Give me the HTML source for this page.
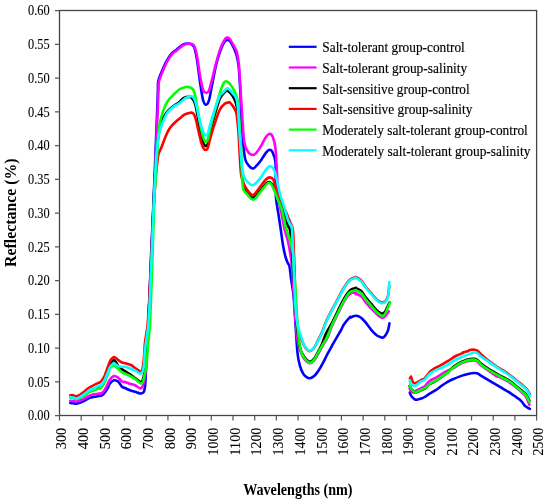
<!DOCTYPE html>
<html><head><meta charset="utf-8"><title>Reflectance spectra</title>
<style>html,body{margin:0;padding:0;background:#fff;width:550px;height:502px;overflow:hidden}svg{display:block}</style>
</head><body>
<svg width="550" height="502" viewBox="0 0 550 502">
<rect width="550" height="502" fill="#fff"/>
<g fill="none" stroke-width="2.6" stroke-linejoin="round" stroke-linecap="round">
<path stroke="#0000ff" d="M70.3 402.9 C70.75 402.97 71.97 403.18 73 403.3 C74.03 403.42 75.33 403.68 76.5 403.6 C77.67 403.52 78.78 403.22 80 402.8 C81.22 402.38 82.2 401.93 83.8 401.1 C85.4 400.27 87.78 398.53 89.6 397.8 C91.42 397.07 93.3 396.97 94.7 396.7 C96.1 396.43 96.78 396.42 98 396.2 C99.22 395.98 101 395.85 102 395.4 C103 394.95 103.07 394.68 104 393.5 C104.93 392.32 106.6 389.97 107.6 388.3 C108.6 386.63 108.93 384.83 110 383.5 C111.07 382.17 112.67 380.63 114 380.3 C115.33 379.97 116.67 380.43 118 381.5 C119.33 382.57 120.83 385.62 122 386.7 C123.17 387.78 123.67 387.4 125 388 C126.33 388.6 128.33 389.67 130 390.3 C131.67 390.93 133.33 391.27 135 391.8 C136.67 392.33 138.83 393.28 140 393.5 C141.17 393.72 141.33 393.43 142 393.1 C142.67 392.77 143.47 392.85 144 391.5 C144.53 390.15 144.88 388.25 145.2 385 C145.52 381.75 145.6 377.83 145.9 372 C146.2 366.17 146.57 357.83 147 350 C147.43 342.17 147.87 339.67 148.5 325 C149.13 310.33 149.95 282.83 150.8 262 C151.65 241.17 152.8 218.67 153.6 200 C154.4 181.33 155 165 155.6 150 C156.2 135 156.82 120 157.2 110 C157.58 100 157.72 94.83 157.9 90 C158.08 85.17 157.63 84.13 158.3 81 C158.97 77.87 160.62 74.37 161.9 71.2 C163.18 68.03 164.43 64.9 166 62 C167.57 59.1 169.53 55.85 171.3 53.8 C173.07 51.75 174.68 51.23 176.6 49.7 C178.52 48.17 180.87 45.63 182.8 44.6 C184.73 43.57 186.62 43.43 188.2 43.5 C189.78 43.57 191.25 44.25 192.3 45 C193.35 45.75 193.72 45.52 194.5 48 C195.28 50.48 196.08 54.27 197 59.9 C197.92 65.53 199 75.17 200 81.8 C201 88.43 202.02 95.88 203 99.7 C203.98 103.52 204.92 104.53 205.9 104.7 C206.88 104.87 207.9 103.85 208.9 100.7 C209.9 97.55 210.73 91.6 211.9 85.8 C213.07 80 214.57 71.55 215.9 65.9 C217.23 60.25 218.57 55.73 219.9 51.9 C221.23 48.07 222.73 44.88 223.9 42.9 C225.07 40.92 225.92 40.32 226.9 40 C227.88 39.68 228.65 39.68 229.8 41 C230.95 42.32 232.63 45.42 233.8 47.9 C234.97 50.38 235.97 52.55 236.8 55.9 C237.63 59.25 238.18 61.48 238.8 68 C239.42 74.52 240.05 86.2 240.5 95 C240.95 103.8 241.03 112.52 241.5 120.8 C241.97 129.08 242.67 138.25 243.3 144.7 C243.93 151.15 244.37 156 245.3 159.5 C246.23 163 247.57 164.22 248.9 165.7 C250.23 167.18 251.47 169.05 253.3 168.4 C255.13 167.75 257.8 164.4 259.9 161.8 C262 159.2 264.25 154.8 265.9 152.8 C267.55 150.8 268.65 149.8 269.8 149.8 C270.95 149.8 271.87 150.8 272.8 152.8 C273.73 154.8 274.92 157.27 275.4 161.8 C275.88 166.33 275.6 173.97 275.7 180 C275.8 186.03 275.55 192.35 276 198 C276.45 203.65 277.6 208.6 278.4 213.9 C279.2 219.2 280.02 224.5 280.8 229.8 C281.58 235.1 282.32 241.18 283.1 245.7 C283.88 250.22 284.7 253.98 285.5 256.9 C286.3 259.82 287.23 261.62 287.9 263.2 C288.57 264.78 288.95 263.67 289.5 266.4 C290.05 269.13 290.53 274.83 291.2 279.6 C291.87 284.37 292.87 288.95 293.5 295 C294.13 301.05 294.35 306.43 295 315.9 C295.65 325.37 296.57 343.43 297.4 351.8 C298.23 360.17 299.02 362.43 300 366.1 C300.98 369.77 302.2 371.97 303.3 373.8 C304.4 375.63 305.5 376.37 306.6 377.1 C307.7 377.83 308.63 378.38 309.9 378.2 C311.17 378.02 312.75 377.28 314.2 376 C315.65 374.72 317.13 372.68 318.6 370.5 C320.07 368.32 321.53 365.63 323 362.9 C324.47 360.17 325.75 357.22 327.4 354.1 C329.05 350.98 331.27 347.12 332.9 344.2 C334.53 341.28 335.83 338.97 337.2 336.6 C338.57 334.23 339.98 332.02 341.1 330 C342.22 327.98 342.47 326.62 343.9 324.5 C345.33 322.38 348.6 318.45 349.7 317.3 C350.8 316.15 349.9 317.78 350.5 317.6 C351.1 317.42 352.37 316.5 353.3 316.2 C354.23 315.9 355.15 315.75 356.1 315.8 C357.05 315.85 358.12 316.13 359 316.5 C359.88 316.87 360.27 316.97 361.4 318 C362.53 319.03 364.17 320.73 365.8 322.7 C367.43 324.67 369.4 327.72 371.2 329.8 C373 331.88 374.97 333.95 376.6 335.2 C378.23 336.45 379.93 336.9 381 337.3 C382.07 337.7 382.25 337.95 383 337.6 C383.75 337.25 384.63 336.5 385.5 335.2 C386.37 333.9 387.55 331.77 388.2 329.8 C388.85 327.83 389.2 324.47 389.4 323.4"/>
<path stroke="#0000ff" d="M409.8 392.5 C410 393 410.6 394.73 411 395.5 C411.4 396.27 411.52 396.43 412.2 397.1 C412.88 397.77 414.22 399.08 415.1 399.5 C415.98 399.92 416.7 399.7 417.5 399.6 C418.3 399.5 419.15 399.13 419.9 398.9 C420.65 398.67 421.2 398.52 422 398.2 C422.8 397.88 423.6 397.65 424.7 397 C425.8 396.35 426.77 395.43 428.6 394.3 C430.43 393.17 433.53 391.62 435.7 390.2 C437.87 388.78 439.62 387.18 441.6 385.8 C443.58 384.42 445.62 383.03 447.6 381.9 C449.58 380.77 451.53 379.88 453.5 379 C455.47 378.12 457.48 377.3 459.4 376.6 C461.32 375.9 463 375.37 465 374.8 C467 374.23 469.4 373.47 471.4 373.2 C473.4 372.93 475.42 372.8 477 373.2 C478.58 373.6 478.92 374.4 480.9 375.6 C482.88 376.8 485.72 378.52 488.9 380.4 C492.08 382.28 497.32 385.33 500 386.9 C502.68 388.47 503.33 388.8 505 389.8 C506.67 390.8 508.33 391.82 510 392.9 C511.67 393.98 513.35 395.15 515 396.3 C516.65 397.45 518.65 398.77 519.9 399.8 C521.15 400.83 521.67 401.5 522.5 402.5 C523.33 403.5 524 404.92 524.9 405.8 C525.8 406.68 527.07 407.3 527.9 407.8 C528.73 408.3 529.57 408.63 529.9 408.8"/>
<path stroke="#ff00ff" d="M70.3 400.7 C70.75 400.75 71.97 400.87 73 401 C74.03 401.13 75.33 401.58 76.5 401.5 C77.67 401.42 78.78 400.93 80 400.5 C81.22 400.07 82.2 399.72 83.8 398.9 C85.4 398.08 87.78 396.38 89.6 395.6 C91.42 394.82 93.3 394.5 94.7 394.2 C96.1 393.9 96.78 394 98 393.8 C99.22 393.6 101 393.47 102 393 C103 392.53 103.33 391.92 104 391 C104.67 390.08 105 389.42 106 387.5 C107 385.58 108.67 381.42 110 379.5 C111.33 377.58 112.67 376.33 114 376 C115.33 375.67 116.67 376.58 118 377.5 C119.33 378.42 120.83 380.75 122 381.5 C123.17 382.25 123.67 381.62 125 382 C126.33 382.38 128.33 383.25 130 383.8 C131.67 384.35 133.25 384.53 135 385.3 C136.75 386.07 139.2 388.32 140.5 388.4 C141.8 388.48 142.13 387.2 142.8 385.8 C143.47 384.4 144.02 382.63 144.5 380 C144.98 377.37 145.28 375.83 145.7 370 C146.12 364.17 146.57 352.5 147 345 C147.43 337.5 147.63 338.83 148.3 325 C148.97 311.17 150.07 282.83 151 262 C151.93 241.17 153.07 218.67 153.9 200 C154.73 181.33 155.37 165 156 150 C156.63 135 157.28 120 157.7 110 C158.12 100 158.3 94.67 158.5 90 C158.7 85.33 158.27 84.97 158.9 82 C159.53 79.03 161.05 75.38 162.3 72.2 C163.55 69.02 164.85 65.83 166.4 62.9 C167.95 59.97 169.87 56.68 171.6 54.6 C173.33 52.52 174.9 51.95 176.8 50.4 C178.7 48.85 181.1 46.42 183 45.3 C184.9 44.18 186.65 43.88 188.2 43.7 C189.75 43.52 191.25 43.73 192.3 44.2 C193.35 44.67 193.72 44.55 194.5 46.5 C195.28 48.45 196.08 51.02 197 55.9 C197.92 60.78 199 70.15 200 75.8 C201 81.45 202.02 86.97 203 89.8 C203.98 92.63 204.92 92.63 205.9 92.8 C206.88 92.97 207.9 92.97 208.9 90.8 C209.9 88.63 210.73 84.28 211.9 79.8 C213.07 75.32 214.57 68.88 215.9 63.9 C217.23 58.92 218.57 53.72 219.9 49.9 C221.23 46.08 222.73 43.05 223.9 41 C225.07 38.95 225.92 37.93 226.9 37.6 C227.88 37.27 228.65 37.62 229.8 39 C230.95 40.38 232.63 43.75 233.8 45.9 C234.97 48.05 235.97 48.9 236.8 51.9 C237.63 54.9 238.22 58.38 238.8 63.9 C239.38 69.42 239.75 76.5 240.3 85 C240.85 93.5 241.43 105.37 242.1 114.9 C242.77 124.43 243.33 136.05 244.3 142.2 C245.27 148.35 246.3 149.7 247.9 151.8 C249.5 153.9 251.9 155.47 253.9 154.8 C255.9 154.13 257.9 150.78 259.9 147.8 C261.9 144.82 264.25 139.22 265.9 136.9 C267.55 134.58 268.65 133.9 269.8 133.9 C270.95 133.9 271.87 134.58 272.8 136.9 C273.73 139.22 274.77 143.12 275.4 147.8 C276.03 152.48 276.25 158.8 276.6 165 C276.95 171.2 277.2 179.5 277.5 185 C277.8 190.5 277.72 193.18 278.4 198 C279.08 202.82 280.55 208.6 281.6 213.9 C282.65 219.2 283.65 225.28 284.7 229.8 C285.75 234.32 286.97 237.02 287.9 241 C288.83 244.98 289.63 249.53 290.3 253.7 C290.97 257.87 291.37 259.95 291.9 266 C292.43 272.05 292.9 281 293.5 290 C294.1 299 294.83 311.67 295.5 320 C296.17 328.33 296.8 335.17 297.5 340 C298.2 344.83 298.73 346.08 299.7 349 C300.67 351.92 302.15 355.42 303.3 357.5 C304.45 359.58 305.5 360.53 306.6 361.5 C307.7 362.47 308.63 363.47 309.9 363.3 C311.17 363.13 312.75 362.22 314.2 360.5 C315.65 358.78 317.13 355.53 318.6 353 C320.07 350.47 321.53 347.87 323 345.3 C324.47 342.73 325.9 340.82 327.4 337.6 C328.9 334.38 330.25 329.97 332 326 C333.75 322.03 335.92 317.83 337.9 313.8 C339.88 309.77 341.9 305.1 343.9 301.8 C345.9 298.5 347.95 295.55 349.9 294 C351.85 292.45 354.65 292.5 355.6 292.5 C356.55 292.5 355.52 293.75 355.6 294 C355.68 294.25 355.13 293.58 356.1 294 C357.07 294.42 359.78 295.08 361.4 296.5 C363.02 297.92 364.17 300.5 365.8 302.5 C367.43 304.5 369.4 306.58 371.2 308.5 C373 310.42 374.97 312.53 376.6 314 C378.23 315.47 379.93 316.67 381 317.3 C382.07 317.93 382.25 318.02 383 317.8 C383.75 317.58 384.53 317.07 385.5 316 C386.47 314.93 388.25 312.17 388.8 311.4"/>
<path stroke="#ff00ff" d="M409.6 388.2 C409.83 388.7 410.43 390.48 411 391.2 C411.57 391.92 412.33 392.4 413 392.5 C413.67 392.6 414.35 392.18 415 391.8 C415.65 391.42 416.07 390.73 416.9 390.2 C417.73 389.67 418.7 389.25 420 388.6 C421.3 387.95 423.65 387.02 424.7 386.3 C425.75 385.58 425.45 385.23 426.3 384.3 C427.15 383.37 428.23 381.78 429.8 380.7 C431.37 379.62 433.73 378.88 435.7 377.8 C437.67 376.72 439.82 375.28 441.6 374.2 C443.38 373.12 444.42 372.3 446.4 371.3 C448.38 370.3 451.33 369.35 453.5 368.2 C455.67 367.05 457.48 365.43 459.4 364.4 C461.32 363.37 463.23 362.6 465 362 C466.77 361.4 468.4 361.05 470 360.8 C471.6 360.55 473.32 360.32 474.6 360.5 C475.88 360.68 476.65 361.1 477.7 361.9 C478.75 362.7 479.03 363.8 480.9 365.3 C482.77 366.8 486.38 369.15 488.9 370.9 C491.42 372.65 494.15 374.73 496 375.8 C497.85 376.87 498.5 376.62 500 377.3 C501.5 377.98 503.33 378.98 505 379.9 C506.67 380.82 508.33 381.68 510 382.8 C511.67 383.92 513.35 385.27 515 386.6 C516.65 387.93 518.57 389.65 519.9 390.8 C521.23 391.95 522 392.55 523 393.5 C524 394.45 524.83 394.62 525.9 396.5 C526.97 398.38 528.82 403.42 529.4 404.8"/>
<path stroke="#000000" d="M70.3 397.2 C70.75 397.28 71.97 397.47 73 397.7 C74.03 397.93 75.33 398.67 76.5 398.6 C77.67 398.53 78.78 397.82 80 397.3 C81.22 396.78 82.2 396.52 83.8 395.5 C85.4 394.48 87.78 392.2 89.6 391.2 C91.42 390.2 93.3 389.97 94.7 389.5 C96.1 389.03 96.95 388.77 98 388.4 C99.05 388.03 99.93 388.45 101 387.3 C102.07 386.15 103.3 384.05 104.4 381.5 C105.5 378.95 106.67 374.75 107.6 372 C108.53 369.25 108.93 367 110 365 C111.07 363 112.83 360.17 114 360 C115.17 359.83 116 362.67 117 364 C118 365.33 118.67 366.83 120 368 C121.33 369.17 123.33 369.93 125 371 C126.67 372.07 128.33 373.23 130 374.4 C131.67 375.57 133.25 376.73 135 378 C136.75 379.27 139.2 381.67 140.5 382 C141.8 382.33 142.13 381.67 142.8 380 C143.47 378.33 143.97 376.17 144.5 372 C145.03 367.83 145.33 363.67 146 355 C146.67 346.33 147.63 335.5 148.5 320 C149.37 304.5 150.33 282 151.2 262 C152.07 242 152.97 216.17 153.7 200 C154.43 183.83 155.05 173.67 155.6 165 C156.15 156.33 156.5 153.05 157 148 C157.5 142.95 157.73 139.32 158.6 134.7 C159.47 130.08 160.8 124.08 162.2 120.3 C163.6 116.52 165.22 114.28 167 112 C168.78 109.72 170.92 108.2 172.9 106.6 C174.88 105 177.07 103.85 178.9 102.4 C180.73 100.95 182.08 98.82 183.9 97.9 C185.72 96.98 188.45 96.85 189.8 96.9 C191.15 96.95 191.33 97.55 192 98.2 C192.67 98.85 193.22 99.62 193.8 100.8 C194.38 101.98 194.92 103.1 195.5 105.3 C196.08 107.5 196.72 110.8 197.3 114 C197.88 117.2 198.42 121.17 199 124.5 C199.58 127.83 200.18 131.15 200.8 134 C201.42 136.85 201.97 139.63 202.7 141.6 C203.43 143.57 204.35 145.4 205.2 145.8 C206.05 146.2 206.98 146.33 207.8 144 C208.62 141.67 209.02 136.38 210.1 131.8 C211.18 127.22 212.67 122.07 214.3 116.5 C215.93 110.93 218.03 102.58 219.9 98.4 C221.77 94.22 224.32 92.72 225.5 91.4 C226.68 90.08 226.12 90.17 227 90.5 C227.88 90.83 229.57 91.93 230.8 93.4 C232.03 94.87 233.4 97.12 234.4 99.3 C235.4 101.48 236.15 103.05 236.8 106.5 C237.45 109.95 237.87 115.25 238.3 120 C238.73 124.75 238.98 128.33 239.4 135 C239.82 141.67 240.28 152.5 240.8 160 C241.32 167.5 241.8 175.08 242.5 180 C243.2 184.92 244.08 187.08 245 189.5 C245.92 191.92 246.62 193.13 248 194.5 C249.38 195.87 251.25 198.33 253.3 197.7 C255.35 197.07 258.2 193.03 260.3 190.7 C262.4 188.37 264.27 185.1 265.9 183.7 C267.53 182.3 268.7 181.6 270.1 182.3 C271.5 183 273.15 185.78 274.3 187.9 C275.45 190.02 276.05 192.65 277 195 C277.95 197.35 279 199.52 280 202 C281 204.48 282.02 206.92 283 209.9 C283.98 212.88 285.08 217.23 285.9 219.9 C286.72 222.57 287.23 224.25 287.9 225.9 C288.57 227.55 289.3 226.62 289.9 229.8 C290.5 232.98 290.98 239.13 291.5 245 C292.02 250.87 292.5 257.5 293 265 C293.5 272.5 293.92 280.83 294.5 290 C295.08 299.17 295.63 310.58 296.5 320 C297.37 329.42 298.57 340.62 299.7 346.5 C300.83 352.38 302.15 353.1 303.3 355.3 C304.45 357.5 305.5 358.6 306.6 359.7 C307.7 360.8 308.63 362.08 309.9 361.9 C311.17 361.72 312.75 360.43 314.2 358.6 C315.65 356.77 317.3 353.33 318.6 350.9 C319.9 348.47 320.77 346.9 322 344 C323.23 341.1 324.33 337.03 326 333.5 C327.67 329.97 330.02 326.58 332 322.8 C333.98 319.02 335.92 314.78 337.9 310.8 C339.88 306.82 341.9 302.28 343.9 298.9 C345.9 295.52 347.95 292.3 349.9 290.5 C351.85 288.7 354.57 288.47 355.6 288.1 C356.63 287.73 355.13 287.77 356.1 288.3 C357.07 288.83 359.78 289.75 361.4 291.3 C363.02 292.85 364.17 295.5 365.8 297.6 C367.43 299.7 369.4 301.82 371.2 303.9 C373 305.98 374.97 308.52 376.6 310.1 C378.23 311.68 379.93 312.83 381 313.4 C382.07 313.97 382.25 313.9 383 313.5 C383.75 313.1 384.42 312.83 385.5 311 C386.58 309.17 388.83 303.92 389.5 302.5"/>
<path stroke="#000000" d="M409.6 385.8 C410.03 386.48 411.28 388.77 412.2 389.9 C413.12 391.03 414.22 392.3 415.1 392.6 C415.98 392.9 416.7 392 417.5 391.7 C418.3 391.4 419.15 391.12 419.9 390.8 C420.65 390.48 421.2 390.18 422 389.8 C422.8 389.42 423.98 388.88 424.7 388.5 C425.42 388.12 425.45 388.25 426.3 387.5 C427.15 386.75 428.23 385.08 429.8 384 C431.37 382.92 433.73 382.18 435.7 381 C437.67 379.82 439.62 378.33 441.6 376.9 C443.58 375.47 445.62 374.1 447.6 372.4 C449.58 370.7 451.53 368.3 453.5 366.7 C455.47 365.1 457.48 363.85 459.4 362.8 C461.32 361.75 463.23 361.02 465 360.4 C466.77 359.78 468.4 359.37 470 359.1 C471.6 358.83 473.32 358.62 474.6 358.8 C475.88 358.98 476.65 359.4 477.7 360.2 C478.75 361 479.03 362.1 480.9 363.6 C482.77 365.1 485.72 367.2 488.9 369.2 C492.08 371.2 497.32 374.1 500 375.6 C502.68 377.1 503.33 377.28 505 378.2 C506.67 379.12 508.33 379.98 510 381.1 C511.67 382.22 513.35 383.57 515 384.9 C516.65 386.23 518.57 387.97 519.9 389.1 C521.23 390.23 522 390.87 523 391.7 C524 392.53 524.83 392.63 525.9 394.1 C526.97 395.57 528.82 399.43 529.4 400.5"/>
<path stroke="#ff0000" d="M70.3 395.3 C70.75 395.28 71.97 395.02 73 395.2 C74.03 395.38 75.42 396.43 76.5 396.4 C77.58 396.37 78.52 395.55 79.5 395 C80.48 394.45 81.07 394.15 82.4 393.1 C83.73 392.05 85.82 389.92 87.5 388.7 C89.18 387.48 90.68 386.77 92.5 385.8 C94.32 384.83 96.98 383.62 98.4 382.9 C99.82 382.18 100 382.6 101 381.5 C102 380.4 103.3 378.63 104.4 376.3 C105.5 373.97 106.67 370.02 107.6 367.5 C108.53 364.98 109.27 362.7 110 361.2 C110.73 359.7 111.22 359.17 112 358.5 C112.78 357.83 113.58 356.88 114.7 357.2 C115.82 357.52 117.48 359.52 118.7 360.4 C119.92 361.28 120.78 362 122 362.5 C123.22 363 124.5 362.98 126 363.4 C127.5 363.82 129.5 364.23 131 365 C132.5 365.77 133.5 366.93 135 368 C136.5 369.07 138.92 370.85 140 371.4 C141.08 371.95 141.05 371.87 141.5 371.3 C141.95 370.73 142.28 370.38 142.7 368 C143.12 365.62 143.62 361.27 144 357 C144.38 352.73 144.33 348.57 145 342.4 C145.67 336.23 146.97 333.4 148 320 C149.03 306.6 150.27 280.33 151.2 262 C152.13 243.67 152.88 223.67 153.6 210 C154.32 196.33 154.93 187.5 155.5 180 C156.07 172.5 156.5 169.28 157 165 C157.5 160.72 157.92 156.88 158.5 154.3 C159.08 151.72 159.88 150.97 160.5 149.5 C161.12 148.03 161.32 147.77 162.2 145.5 C163.08 143.23 164.6 138.7 165.8 135.9 C167 133.1 168.22 130.6 169.4 128.7 C170.58 126.8 171.32 126.1 172.9 124.5 C174.48 122.9 176.9 120.78 178.9 119.1 C180.9 117.42 182.9 115.48 184.9 114.4 C186.9 113.32 189.63 112.85 190.9 112.6 C192.17 112.35 191.93 112.5 192.5 112.9 C193.07 113.3 193.68 113.7 194.3 115 C194.92 116.3 195.42 117.67 196.2 120.7 C196.98 123.73 198.07 129.25 199 133.2 C199.93 137.15 201.02 141.85 201.8 144.4 C202.58 146.95 203.13 147.57 203.7 148.5 C204.27 149.43 204.57 150 205.2 150 C205.83 150 206.68 150.37 207.5 148.5 C208.32 146.63 208.97 142.73 210.1 138.8 C211.23 134.87 212.67 129.78 214.3 124.9 C215.93 120.02 218.03 113.12 219.9 109.5 C221.77 105.88 224.28 104.3 225.5 103.2 C226.72 102.1 226.52 103.05 227.2 102.9 C227.88 102.75 228.6 101.7 229.6 102.3 C230.6 102.9 232.1 104.8 233.2 106.5 C234.3 108.2 235.5 110.12 236.2 112.5 C236.9 114.88 237.02 117.42 237.4 120.8 C237.78 124.18 238.2 128.77 238.5 132.8 C238.8 136.83 238.95 140.47 239.2 145 C239.45 149.53 239.67 155 240 160 C240.33 165 240.6 171.08 241.2 175 C241.8 178.92 242.5 180.88 243.6 183.5 C244.7 186.12 246.18 188.8 247.8 190.7 C249.42 192.6 251.22 195.6 253.3 194.9 C255.38 194.2 258.2 189.07 260.3 186.5 C262.4 183.93 264.27 181.02 265.9 179.5 C267.53 177.98 268.82 177.28 270.1 177.4 C271.38 177.52 272.67 178.45 273.6 180.2 C274.53 181.95 274.97 185.43 275.7 187.9 C276.43 190.37 276.95 192.48 278 195 C279.05 197.52 280.67 200.17 282 203 C283.33 205.83 284.67 208.83 286 212 C287.33 215.17 288.85 219.03 290 222 C291.15 224.97 292.25 224.85 292.9 229.8 C293.55 234.75 293.6 244.17 293.9 251.7 C294.2 259.23 294.43 266.95 294.7 275 C294.97 283.05 295.03 291.67 295.5 300 C295.97 308.33 296.8 319.25 297.5 325 C298.2 330.75 298.73 331.37 299.7 334.5 C300.67 337.63 302.15 341.35 303.3 343.8 C304.45 346.25 305.5 347.97 306.6 349.2 C307.7 350.43 308.63 351.43 309.9 351.2 C311.17 350.97 312.75 349.8 314.2 347.8 C315.65 345.8 317.22 341.95 318.6 339.2 C319.98 336.45 321.27 334.2 322.5 331.3 C323.73 328.4 324.42 325.38 326 321.8 C327.58 318.22 330.02 313.63 332 309.8 C333.98 305.97 335.92 302.47 337.9 298.8 C339.88 295.13 341.9 290.98 343.9 287.8 C345.9 284.62 347.95 281.45 349.9 279.7 C351.85 277.95 354.65 277.7 355.6 277.3 C356.55 276.9 355.52 277.33 355.6 277.3 C355.68 277.27 355.13 276.53 356.1 277.1 C357.07 277.67 359.78 279.05 361.4 280.7 C363.02 282.35 364.17 284.92 365.8 287 C367.43 289.08 369.4 291.12 371.2 293.2 C373 295.28 374.97 298 376.6 299.5 C378.23 301 379.85 301.78 381 302.2 C382.15 302.62 382.75 302.17 383.5 302 C384.25 301.83 384.72 302.37 385.5 301.2 C386.28 300.03 387.58 297.53 388.2 295 C388.82 292.47 389.03 287.5 389.2 286"/>
<path stroke="#ff0000" d="M409.9 378.5 C410.02 378.25 410.38 377.25 410.6 377 C410.82 376.75 410.88 376.28 411.2 377 C411.52 377.72 411.93 380.25 412.5 381.3 C413.07 382.35 413.85 383.1 414.6 383.3 C415.35 383.5 416.12 382.88 417 382.5 C417.88 382.12 419.07 381.48 419.9 381 C420.73 380.52 421.2 380.03 422 379.6 C422.8 379.17 423.4 379.67 424.7 378.4 C426 377.13 428.1 373.7 429.8 372 C431.5 370.3 432.9 369.42 434.9 368.2 C436.9 366.98 439.48 365.98 441.8 364.7 C444.12 363.42 446.47 361.95 448.8 360.5 C451.13 359.05 453.47 357.25 455.8 356 C458.13 354.75 461.63 353.57 462.8 353 C463.97 352.43 462 352.88 462.8 352.6 C463.6 352.32 466.43 351.72 467.6 351.3 C468.77 350.88 468.63 350.37 469.8 350.1 C470.97 349.83 473.28 349.57 474.6 349.7 C475.92 349.83 476.65 350.17 477.7 350.9 C478.75 351.63 479.3 352.63 480.9 354.1 C482.5 355.57 485.17 357.97 487.3 359.7 C489.43 361.43 491.58 363 493.7 364.5 C495.82 366 498.12 367.5 500 368.7 C501.88 369.9 503.33 370.62 505 371.7 C506.67 372.78 508.33 373.95 510 375.2 C511.67 376.45 513.35 377.88 515 379.2 C516.65 380.52 518.4 381.85 519.9 383.1 C521.4 384.35 522.83 385.68 524 386.7 C525.17 387.72 525.92 387.9 526.9 389.2 C527.88 390.5 529.4 393.62 529.9 394.5"/>
<path stroke="#00ff00" d="M70.3 397.5 C70.75 397.58 71.97 397.75 73 398 C74.03 398.25 75.33 399.03 76.5 399 C77.67 398.97 78.78 398.3 80 397.8 C81.22 397.3 82.2 397 83.8 396 C85.4 395 87.78 392.8 89.6 391.8 C91.42 390.8 93.3 390.5 94.7 390 C96.1 389.5 96.95 389.17 98 388.8 C99.05 388.43 99.93 388.85 101 387.8 C102.07 386.75 103.3 384.63 104.4 382.5 C105.5 380.37 106.67 377.37 107.6 375 C108.53 372.63 108.93 369.88 110 368.3 C111.07 366.72 112.67 365.47 114 365.5 C115.33 365.53 116.68 367.37 118 368.5 C119.32 369.63 120.73 371.42 121.9 372.3 C123.07 373.18 123.65 373.18 125 373.8 C126.35 374.42 128.33 375.15 130 376 C131.67 376.85 133.25 377.67 135 378.9 C136.75 380.13 139.2 382.9 140.5 383.4 C141.8 383.9 142.13 383.3 142.8 381.9 C143.47 380.5 143.9 377.85 144.5 375 C145.1 372.15 145.73 370.63 146.4 364.8 C147.07 358.97 147.87 347.47 148.5 340 C149.13 332.53 149.57 333 150.2 320 C150.83 307 151.62 282 152.3 262 C152.98 242 153.75 213.67 154.3 200 C154.85 186.33 155.18 186.67 155.6 180 C156.02 173.33 156.3 168.15 156.8 160 C157.3 151.85 157.9 138.12 158.6 131.1 C159.3 124.08 160 121.88 161 117.9 C162 113.92 163.4 110.1 164.6 107.2 C165.8 104.3 166.65 102.65 168.2 100.5 C169.75 98.35 171.95 96.22 173.9 94.3 C175.85 92.38 177.92 90.22 179.9 89 C181.88 87.78 184.45 87.35 185.8 87 C187.15 86.65 187.22 86.8 188 86.9 C188.78 87 189.6 87.08 190.5 87.6 C191.4 88.12 192.65 88.77 193.4 90 C194.15 91.23 194.52 93.08 195 95 C195.48 96.92 195.75 98.5 196.3 101.5 C196.85 104.5 197.62 109.1 198.3 113 C198.98 116.9 199.7 121.23 200.4 124.9 C201.1 128.57 201.7 132.22 202.5 135 C203.3 137.78 204.32 140.85 205.2 141.6 C206.08 142.35 206.98 141.6 207.8 139.5 C208.62 137.4 209.02 133.53 210.1 129 C211.18 124.47 212.67 118.33 214.3 112.3 C215.93 106.27 218.3 97.72 219.9 92.8 C221.5 87.88 222.73 84.7 223.9 82.8 C225.07 80.9 225.75 81.03 226.9 81.4 C228.05 81.77 229.45 83.2 230.8 85 C232.15 86.8 233.9 89.82 235 92.2 C236.1 94.58 236.82 96.52 237.4 99.3 C237.98 102.08 238.12 104.32 238.5 108.9 C238.88 113.48 239.3 120.83 239.7 126.8 C240.1 132.77 240.55 137.5 240.9 144.7 C241.25 151.9 241.45 162.78 241.8 170 C242.15 177.22 242.23 184.08 243 188 C243.77 191.92 244.68 191.55 246.4 193.5 C248.12 195.45 250.98 199.93 253.3 199.7 C255.62 199.47 258.2 194.53 260.3 192.1 C262.4 189.67 264.27 186.62 265.9 185.1 C267.53 183.58 268.58 181.85 270.1 183 C271.62 184.15 273.68 189.17 275 192 C276.32 194.83 276.83 197.02 278 200 C279.17 202.98 280.68 205.27 282 209.9 C283.32 214.53 284.58 222.82 285.9 227.8 C287.22 232.78 288.73 235.48 289.9 239.8 C291.07 244.12 292.22 248.67 292.9 253.7 C293.58 258.73 293.57 263.95 294 270 C294.43 276.05 294.92 280.83 295.5 290 C296.08 299.17 296.75 315.42 297.5 325 C298.25 334.58 299.03 342.28 300 347.5 C300.97 352.72 302.2 354.1 303.3 356.3 C304.4 358.5 305.5 359.6 306.6 360.7 C307.7 361.8 308.63 363.08 309.9 362.9 C311.17 362.72 312.75 361.43 314.2 359.6 C315.65 357.77 317.13 354.47 318.6 351.9 C320.07 349.33 321.53 346.75 323 344.2 C324.47 341.65 325.9 339.8 327.4 336.6 C328.9 333.4 330.25 328.97 332 325 C333.75 321.03 335.92 316.83 337.9 312.8 C339.88 308.77 341.9 304.22 343.9 300.8 C345.9 297.38 347.95 294.07 349.9 292.3 C351.85 290.53 354.57 290.53 355.6 290.2 C356.63 289.87 355.13 289.8 356.1 290.3 C357.07 290.8 359.78 291.67 361.4 293.2 C363.02 294.73 364.17 297.4 365.8 299.5 C367.43 301.6 369.4 303.72 371.2 305.8 C373 307.88 374.97 310.42 376.6 312 C378.23 313.58 379.98 314.63 381 315.3 C382.02 315.97 381.95 316.38 382.7 316 C383.45 315.62 384.3 315.22 385.5 313 C386.7 310.78 389.17 304.42 389.9 302.7"/>
<path stroke="#00ff00" d="M409.6 386 C410.03 386.65 411.28 388.8 412.2 389.9 C413.12 391 414.22 392.33 415.1 392.6 C415.98 392.87 416.7 391.85 417.5 391.5 C418.3 391.15 419.15 390.83 419.9 390.5 C420.65 390.17 421.2 389.88 422 389.5 C422.8 389.12 423.98 388.58 424.7 388.2 C425.42 387.82 425.45 387.95 426.3 387.2 C427.15 386.45 428.23 384.78 429.8 383.7 C431.37 382.62 433.73 381.88 435.7 380.7 C437.67 379.52 439.62 377.97 441.6 376.6 C443.58 375.23 445.62 374.02 447.6 372.5 C449.58 370.98 451.53 368.98 453.5 367.5 C455.47 366.02 457.48 364.65 459.4 363.6 C461.32 362.55 463.23 361.82 465 361.2 C466.77 360.58 468.4 360.17 470 359.9 C471.6 359.63 473.32 359.42 474.6 359.6 C475.88 359.78 476.65 360.2 477.7 361 C478.75 361.8 479.03 362.9 480.9 364.4 C482.77 365.9 485.72 368 488.9 370 C492.08 372 497.32 374.9 500 376.4 C502.68 377.9 503.33 378.08 505 379 C506.67 379.92 508.33 380.78 510 381.9 C511.67 383.02 513.35 384.37 515 385.7 C516.65 387.03 518.57 388.77 519.9 389.9 C521.23 391.03 522 391.67 523 392.5 C524 393.33 524.83 393.35 525.9 394.9 C526.97 396.45 528.82 400.65 529.4 401.8"/>
<path stroke="#00ffff" d="M70.3 397.1 C70.75 397.17 71.97 397.27 73 397.5 C74.03 397.73 75.33 398.58 76.5 398.5 C77.67 398.42 78.78 397.67 80 397 C81.22 396.33 82.2 395.63 83.8 394.5 C85.4 393.37 87.78 391.28 89.6 390.2 C91.42 389.12 93.3 388.73 94.7 388 C96.1 387.27 96.95 386.3 98 385.8 C99.05 385.3 99.93 385.92 101 385 C102.07 384.08 103.3 382.28 104.4 380.3 C105.5 378.32 106.53 375.48 107.6 373.1 C108.67 370.72 109.73 367.65 110.8 366 C111.87 364.35 112.8 363.2 114 363.2 C115.2 363.2 116.67 365.4 118 366 C119.33 366.6 120.83 366.67 122 366.8 C123.17 366.93 123.67 366.53 125 366.8 C126.33 367.07 128.33 367.8 130 368.4 C131.67 369 133.38 369.55 135 370.4 C136.62 371.25 138.62 373.1 139.7 373.5 C140.78 373.9 140.95 373.3 141.5 372.8 C142.05 372.3 142.53 372.3 143 370.5 C143.47 368.7 143.97 365.43 144.3 362 C144.63 358.57 144.27 356.9 145 349.9 C145.73 342.9 147.63 334.65 148.7 320 C149.77 305.35 150.53 282 151.4 262 C152.27 242 153.2 216.17 153.9 200 C154.6 183.83 155.08 173.67 155.6 165 C156.12 156.33 156.5 152.85 157 148 C157.5 143.15 157.73 139.92 158.6 135.9 C159.47 131.88 160.8 127.68 162.2 123.9 C163.6 120.12 165.22 115.98 167 113.2 C168.78 110.42 170.92 108.8 172.9 107.2 C174.88 105.6 176.75 105.15 178.9 103.6 C181.05 102.05 184.12 99.03 185.8 97.9 C187.48 96.77 187.97 97.07 189 96.8 C190.03 96.53 191.17 96.05 192 96.3 C192.83 96.55 193.42 97.32 194 98.3 C194.58 99.28 194.97 100.42 195.5 102.2 C196.03 103.98 196.62 106.45 197.2 109 C197.78 111.55 198.37 114.75 199 117.5 C199.63 120.25 200.3 123.12 201 125.5 C201.7 127.88 202.5 130.17 203.2 131.8 C203.9 133.43 204.43 134.97 205.2 135.3 C205.97 135.63 206.98 135.53 207.8 133.8 C208.62 132.07 209.02 128.72 210.1 124.9 C211.18 121.08 212.67 115.78 214.3 110.9 C215.93 106.02 218.63 98.47 219.9 95.6 C221.17 92.73 220.73 94.88 221.9 93.7 C223.07 92.52 225.62 89.15 226.9 88.5 C228.18 87.85 228.55 88.88 229.6 89.8 C230.65 90.72 232.1 92.62 233.2 94 C234.3 95.38 235.4 95.62 236.2 98.1 C237 100.58 237.52 104.12 238 108.9 C238.48 113.68 238.72 120.83 239.1 126.8 C239.48 132.77 239.87 138.55 240.3 144.7 C240.73 150.85 241.15 158.6 241.7 163.7 C242.25 168.8 242.58 172.2 243.6 175.3 C244.62 178.4 246.18 180.67 247.8 182.3 C249.42 183.93 251.22 185.8 253.3 185.1 C255.38 184.4 258.2 180.65 260.3 178.1 C262.4 175.55 264.27 171.77 265.9 169.8 C267.53 167.83 268.82 166.42 270.1 166.3 C271.38 166.18 272.67 167.6 273.6 169.1 C274.53 170.6 274.97 172.65 275.7 175.3 C276.43 177.95 277.2 181.55 278 185 C278.8 188.45 279.52 192.52 280.5 196 C281.48 199.48 282.67 201.92 283.9 205.9 C285.13 209.88 286.9 216.9 287.9 219.9 C288.9 222.9 289.23 222.58 289.9 223.9 C290.57 225.22 291.47 225.12 291.9 227.8 C292.33 230.48 292.23 234.63 292.5 240 C292.77 245.37 293.17 251.67 293.5 260 C293.83 268.33 294.05 280.68 294.5 290 C294.95 299.32 295.62 309.9 296.2 315.9 C296.78 321.9 297.37 323.1 298 326 C298.63 328.9 299.12 330.45 300 333.3 C300.88 336.15 302.2 340.55 303.3 343.1 C304.4 345.65 305.5 347.32 306.6 348.6 C307.7 349.88 308.63 350.98 309.9 350.8 C311.17 350.62 312.75 349.32 314.2 347.5 C315.65 345.68 317.22 342.48 318.6 339.9 C319.98 337.32 321.27 334.9 322.5 332 C323.73 329.1 324.42 326.08 326 322.5 C327.58 318.92 330.02 314.33 332 310.5 C333.98 306.67 335.92 303.17 337.9 299.5 C339.88 295.83 341.9 291.68 343.9 288.5 C345.9 285.32 347.95 282.15 349.9 280.4 C351.85 278.65 354.57 278.42 355.6 278 C356.63 277.58 355.13 277.32 356.1 277.9 C357.07 278.48 359.78 279.85 361.4 281.5 C363.02 283.15 364.17 285.72 365.8 287.8 C367.43 289.88 369.4 291.92 371.2 294 C373 296.08 374.97 298.8 376.6 300.3 C378.23 301.8 379.85 302.6 381 303 C382.15 303.4 382.75 302.87 383.5 302.7 C384.25 302.53 384.72 303.15 385.5 302 C386.28 300.85 387.55 299.13 388.2 295.8 C388.85 292.47 389.2 284.3 389.4 282"/>
<path stroke="#00ffff" d="M409.9 380 C409.95 380.58 409.85 382.67 410.2 383.5 C410.55 384.33 411.18 384.58 412 385 C412.82 385.42 414.18 386.13 415.1 386 C416.02 385.87 416.7 384.85 417.5 384.2 C418.3 383.55 419.15 382.63 419.9 382.1 C420.65 381.57 421.2 381.42 422 381 C422.8 380.58 423.4 380.8 424.7 379.6 C426 378.4 427.97 375.35 429.8 373.8 C431.63 372.25 433.73 371.3 435.7 370.3 C437.67 369.3 439.62 368.72 441.6 367.8 C443.58 366.88 445.62 365.93 447.6 364.8 C449.58 363.67 451.53 362.13 453.5 361 C455.47 359.87 457.05 359.05 459.4 358 C461.75 356.95 465.07 355.62 467.6 354.7 C470.13 353.78 472.92 352.7 474.6 352.5 C476.28 352.3 476.65 352.83 477.7 353.5 C478.75 354.17 479.03 355.08 480.9 356.5 C482.77 357.92 485.72 359.83 488.9 362 C492.08 364.17 497.32 367.75 500 369.5 C502.68 371.25 503.33 371.42 505 372.5 C506.67 373.58 508.33 374.75 510 376 C511.67 377.25 513.35 378.68 515 380 C516.65 381.32 518.4 382.65 519.9 383.9 C521.4 385.15 522.83 386.48 524 387.5 C525.17 388.52 525.92 388.62 526.9 390 C527.88 391.38 529.4 394.83 529.9 395.8"/>
</g>
<rect x="59.5" y="10.5" width="477.1" height="405" fill="none" stroke="#444" stroke-width="1.3"/>
<path d="M55 415.5 H59.5 M55 381.75 H59.5 M55 348 H59.5 M55 314.25 H59.5 M55 280.5 H59.5 M55 246.75 H59.5 M55 213 H59.5 M55 179.25 H59.5 M55 145.5 H59.5 M55 111.75 H59.5 M55 78 H59.5 M55 44.25 H59.5 M55 10.5 H59.5 M59.5 415.5 V420.6 M81.19 415.5 V420.6 M102.87 415.5 V420.6 M124.56 415.5 V420.6 M146.25 415.5 V420.6 M167.93 415.5 V420.6 M189.62 415.5 V420.6 M211.3 415.5 V420.6 M232.99 415.5 V420.6 M254.68 415.5 V420.6 M276.36 415.5 V420.6 M298.05 415.5 V420.6 M319.74 415.5 V420.6 M341.42 415.5 V420.6 M363.11 415.5 V420.6 M384.8 415.5 V420.6 M406.48 415.5 V420.6 M428.17 415.5 V420.6 M449.85 415.5 V420.6 M471.54 415.5 V420.6 M493.23 415.5 V420.6 M514.91 415.5 V420.6 M536.6 415.5 V420.6" stroke="#5a5a5a" stroke-width="1.25" fill="none"/>
<g font-family="Liberation Serif, serif" font-size="14" fill="#000" stroke="#000" stroke-width="0.1">
<text x="49.6" y="420.25" font-size="13.8" text-anchor="end" textLength="21.6" lengthAdjust="spacingAndGlyphs">0.00</text>
<text x="49.6" y="386.5" font-size="13.8" text-anchor="end" textLength="21.6" lengthAdjust="spacingAndGlyphs">0.05</text>
<text x="49.6" y="352.75" font-size="13.8" text-anchor="end" textLength="21.6" lengthAdjust="spacingAndGlyphs">0.10</text>
<text x="49.6" y="319" font-size="13.8" text-anchor="end" textLength="21.6" lengthAdjust="spacingAndGlyphs">0.15</text>
<text x="49.6" y="285.25" font-size="13.8" text-anchor="end" textLength="21.6" lengthAdjust="spacingAndGlyphs">0.20</text>
<text x="49.6" y="251.5" font-size="13.8" text-anchor="end" textLength="21.6" lengthAdjust="spacingAndGlyphs">0.25</text>
<text x="49.6" y="217.75" font-size="13.8" text-anchor="end" textLength="21.6" lengthAdjust="spacingAndGlyphs">0.30</text>
<text x="49.6" y="184" font-size="13.8" text-anchor="end" textLength="21.6" lengthAdjust="spacingAndGlyphs">0.35</text>
<text x="49.6" y="150.25" font-size="13.8" text-anchor="end" textLength="21.6" lengthAdjust="spacingAndGlyphs">0.40</text>
<text x="49.6" y="116.5" font-size="13.8" text-anchor="end" textLength="21.6" lengthAdjust="spacingAndGlyphs">0.45</text>
<text x="49.6" y="82.75" font-size="13.8" text-anchor="end" textLength="21.6" lengthAdjust="spacingAndGlyphs">0.50</text>
<text x="49.6" y="49" font-size="13.8" text-anchor="end" textLength="21.6" lengthAdjust="spacingAndGlyphs">0.55</text>
<text x="49.6" y="15.25" font-size="13.8" text-anchor="end" textLength="21.6" lengthAdjust="spacingAndGlyphs">0.60</text>
<text transform="translate(66.3 427.8) rotate(-90)" text-anchor="end" textLength="21.4" lengthAdjust="spacingAndGlyphs">300</text>
<text transform="translate(87.99 427.8) rotate(-90)" text-anchor="end" textLength="21.4" lengthAdjust="spacingAndGlyphs">400</text>
<text transform="translate(109.67 427.8) rotate(-90)" text-anchor="end" textLength="21.4" lengthAdjust="spacingAndGlyphs">500</text>
<text transform="translate(131.36 427.8) rotate(-90)" text-anchor="end" textLength="21.4" lengthAdjust="spacingAndGlyphs">600</text>
<text transform="translate(153.05 427.8) rotate(-90)" text-anchor="end" textLength="21.4" lengthAdjust="spacingAndGlyphs">700</text>
<text transform="translate(174.73 427.8) rotate(-90)" text-anchor="end" textLength="21.4" lengthAdjust="spacingAndGlyphs">800</text>
<text transform="translate(196.42 427.8) rotate(-90)" text-anchor="end" textLength="21.4" lengthAdjust="spacingAndGlyphs">900</text>
<text transform="translate(218.1 427.8) rotate(-90)" text-anchor="end" textLength="27.6" lengthAdjust="spacingAndGlyphs">1000</text>
<text transform="translate(239.79 427.8) rotate(-90)" text-anchor="end" textLength="27.6" lengthAdjust="spacingAndGlyphs">1100</text>
<text transform="translate(261.48 427.8) rotate(-90)" text-anchor="end" textLength="27.6" lengthAdjust="spacingAndGlyphs">1200</text>
<text transform="translate(283.16 427.8) rotate(-90)" text-anchor="end" textLength="27.6" lengthAdjust="spacingAndGlyphs">1300</text>
<text transform="translate(304.85 427.8) rotate(-90)" text-anchor="end" textLength="27.6" lengthAdjust="spacingAndGlyphs">1400</text>
<text transform="translate(326.54 427.8) rotate(-90)" text-anchor="end" textLength="27.6" lengthAdjust="spacingAndGlyphs">1500</text>
<text transform="translate(348.22 427.8) rotate(-90)" text-anchor="end" textLength="27.6" lengthAdjust="spacingAndGlyphs">1600</text>
<text transform="translate(369.91 427.8) rotate(-90)" text-anchor="end" textLength="27.6" lengthAdjust="spacingAndGlyphs">1700</text>
<text transform="translate(391.6 427.8) rotate(-90)" text-anchor="end" textLength="27.6" lengthAdjust="spacingAndGlyphs">1800</text>
<text transform="translate(413.28 427.8) rotate(-90)" text-anchor="end" textLength="27.6" lengthAdjust="spacingAndGlyphs">1900</text>
<text transform="translate(434.97 427.8) rotate(-90)" text-anchor="end" textLength="27.6" lengthAdjust="spacingAndGlyphs">2000</text>
<text transform="translate(456.65 427.8) rotate(-90)" text-anchor="end" textLength="27.6" lengthAdjust="spacingAndGlyphs">2100</text>
<text transform="translate(478.34 427.8) rotate(-90)" text-anchor="end" textLength="27.6" lengthAdjust="spacingAndGlyphs">2200</text>
<text transform="translate(500.03 427.8) rotate(-90)" text-anchor="end" textLength="27.6" lengthAdjust="spacingAndGlyphs">2300</text>
<text transform="translate(521.71 427.8) rotate(-90)" text-anchor="end" textLength="27.6" lengthAdjust="spacingAndGlyphs">2400</text>
<text transform="translate(543.4 427.8) rotate(-90)" text-anchor="end" textLength="27.6" lengthAdjust="spacingAndGlyphs">2500</text>
</g>
<g font-family="Liberation Serif, serif" font-size="14.1" fill="#000">
<path d="M288.8 46.8 H316.6" stroke="#0000ff" stroke-width="2.2"/>
<text x="322.3" y="52.1" stroke="#000" stroke-width="0.15" textLength="142.5" lengthAdjust="spacingAndGlyphs">Salt-tolerant group-control</text>
<path d="M288.8 67.5 H316.6" stroke="#ff00ff" stroke-width="2.2"/>
<text x="322.3" y="72.8" stroke="#000" stroke-width="0.15" textLength="145" lengthAdjust="spacingAndGlyphs">Salt-tolerant group-salinity</text>
<path d="M288.8 88.2 H316.6" stroke="#000000" stroke-width="2.2"/>
<text x="322.3" y="93.5" stroke="#000" stroke-width="0.15" textLength="147.3" lengthAdjust="spacingAndGlyphs">Salt-sensitive group-control</text>
<path d="M288.8 108.9 H316.6" stroke="#ff0000" stroke-width="2.2"/>
<text x="322.3" y="114.2" stroke="#000" stroke-width="0.15" textLength="150.1" lengthAdjust="spacingAndGlyphs">Salt-sensitive group-salinity</text>
<path d="M288.8 129.6 H316.6" stroke="#00ff00" stroke-width="2.2"/>
<text x="322.3" y="134.9" stroke="#000" stroke-width="0.15" textLength="205.5" lengthAdjust="spacingAndGlyphs">Moderately salt-tolerant group-control</text>
<path d="M288.8 150.3 H316.6" stroke="#00ffff" stroke-width="2.2"/>
<text x="322.3" y="155.6" stroke="#000" stroke-width="0.15" textLength="208.1" lengthAdjust="spacingAndGlyphs">Moderately salt-tolerant group-salinity</text>
</g>
<g font-family="Liberation Serif, serif" font-weight="bold" font-size="16.4" fill="#000">
<text x="243.2" y="494.6" textLength="109.3" lengthAdjust="spacingAndGlyphs">Wavelengths (nm)</text>
<text transform="translate(16 266.9) rotate(-90)" textLength="108.4" lengthAdjust="spacingAndGlyphs">Reflectance (%)</text>
</g>
</svg>
</body></html>
